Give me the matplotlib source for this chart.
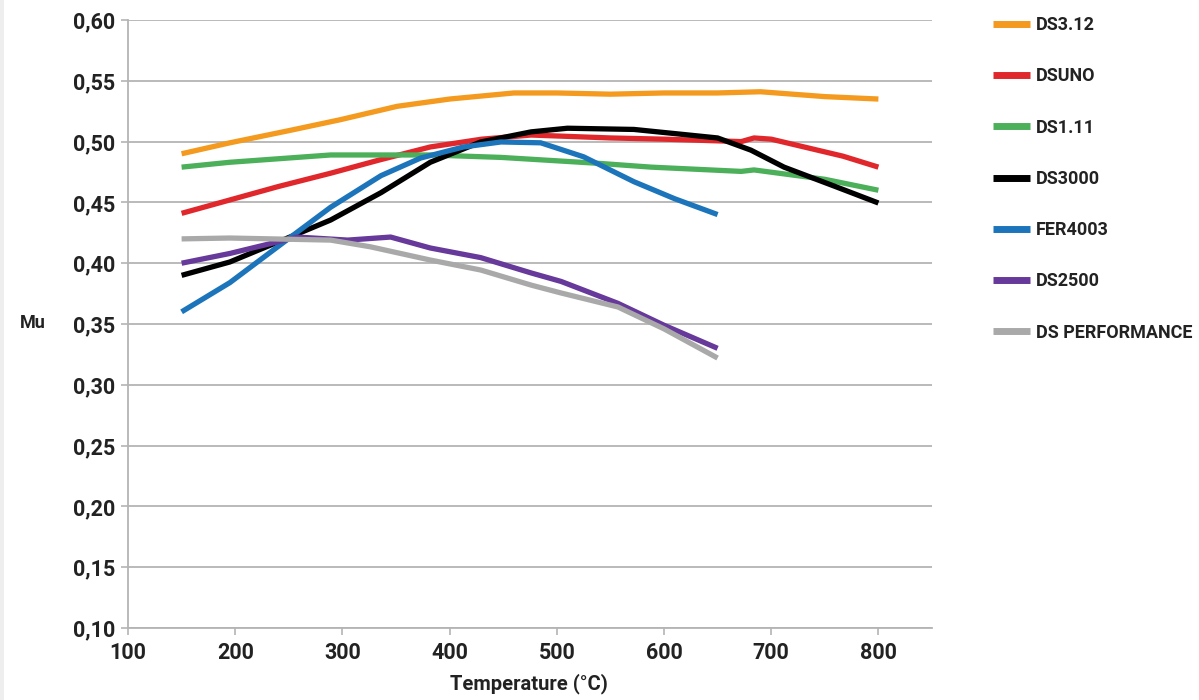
import matplotlib
matplotlib.use("Agg")
import matplotlib.pyplot as plt
from matplotlib.patches import Rectangle
from matplotlib.ticker import FuncFormatter

plt.rcParams['font.family'] = ['Roboto', 'DejaVu Sans']

series_names = ["DS3.12", "DSUNO", "DS1.11", "DS3000", "FER4003", "DS2500", "DS PERFORMANCE"]
colors = ["#F39A1F", "#E0282C", "#4CAF5A", "#000000", "#1C75BA", "#66399A", "#A9A9A9"]

ds312_x = [150, 195, 250, 298, 351, 400, 460, 500, 550, 600, 650, 690, 750, 800]
ds312_y = [0.490, 0.499, 0.509, 0.518, 0.529, 0.535, 0.540, 0.540, 0.539, 0.540, 0.540, 0.541, 0.537, 0.535]

dsuno_x = [150, 195, 240, 289, 335, 382, 430, 476, 550, 600, 672, 684, 700, 767, 800]
dsuno_y = [0.441, 0.452, 0.463, 0.474, 0.485, 0.4956, 0.502, 0.5054, 0.503, 0.502, 0.500, 0.503, 0.502, 0.488, 0.479]

ds111_x = [150, 195, 289, 382, 448, 541, 588, 672, 684, 750, 800]
ds111_y = [0.479, 0.483, 0.489, 0.489, 0.487, 0.482, 0.479, 0.4755, 0.4767, 0.469, 0.460]

ds3000_x = [150, 195, 251, 289, 336, 382, 429, 476, 510, 572, 650, 681, 712, 760, 800]
ds3000_y = [0.390, 0.401, 0.4215, 0.4355, 0.458, 0.483, 0.4997, 0.508, 0.511, 0.510, 0.503, 0.493, 0.479, 0.463, 0.4495]

fer4003_x = [150, 195, 251, 289, 336, 373, 413, 448, 485, 525, 572, 610, 650]
fer4003_y = [0.360, 0.384, 0.421, 0.446, 0.472, 0.4865, 0.4956, 0.4997, 0.499, 0.4875, 0.467, 0.453, 0.440]

ds2500_x = [150, 195, 258, 305, 345, 382, 429, 476, 504, 557, 600, 650]
ds2500_y = [0.400, 0.408, 0.4215, 0.419, 0.4215, 0.4125, 0.4046, 0.392, 0.385, 0.367, 0.349, 0.330]

dsperf_x = [150, 195, 289, 326, 382, 429, 476, 504, 557, 600, 650]
dsperf_y = [0.420, 0.4207, 0.419, 0.4135, 0.4026, 0.3944, 0.382, 0.3755, 0.364, 0.346, 0.322]

series_x = [ds312_x, dsuno_x, ds111_x, ds3000_x, fer4003_x, ds2500_x, dsperf_x]
series_y = [ds312_y, dsuno_y, ds111_y, ds3000_y, fer4003_y, ds2500_y, dsperf_y]

x_ticks = [100, 200, 300, 400, 500, 600, 700, 800]
y_ticks = [0.10, 0.15, 0.20, 0.25, 0.30, 0.35, 0.40, 0.45, 0.50, 0.55, 0.60]

fig = plt.figure(figsize=(11.99, 7.0), dpi=100)
fig.patch.set_facecolor("white")
fig.patches.append(Rectangle((0, 0), 4 / 1199, 1, transform=fig.transFigure,
                             facecolor="#EEEEEE", edgecolor="none", zorder=0))

ax = fig.add_axes([128 / 1199, 72 / 700, (932 - 128) / 1199, 608 / 700])
ax.set_xlim(100, 850)
ax.set_ylim(0.10, 0.60)

grid_color = "#B4B4B4"
for yt in y_ticks:
    ax.axhline(yt, color=grid_color, lw=1.3, zorder=1)

lines = []
for xs, ys, c, name in zip(series_x, series_y, colors, series_names):
    ln, = ax.plot(xs, ys, color=c, lw=3.8, solid_capstyle="butt",
                  solid_joinstyle="round", label=name, zorder=3)
    lines.append(ln)

for s in ["top", "right"]:
    ax.spines[s].set_visible(False)
for s in ["left", "bottom"]:
    ax.spines[s].set_color(grid_color)
    ax.spines[s].set_linewidth(1.3)

ax.set_xticks(x_ticks)
ax.set_yticks(y_ticks)
ax.yaxis.set_major_formatter(FuncFormatter(lambda v, p: f"{v:.2f}".replace(".", ",")))
ax.tick_params(axis="both", colors=grid_color, length=5, width=1.2, labelcolor="#222222",
               labelsize=15.5)
ax.tick_params(axis="x", pad=5)
ax.tick_params(axis="y", pad=4)
for lbl in ax.get_xticklabels() + ax.get_yticklabels():
    lbl.set_fontweight("semibold")

fig.text(33 / 1199, 1 - 323 / 700, "Mu", fontsize=13, fontweight="bold",
         ha="center", va="center", color="#222222")
fig.text(529 / 1199, 1 - 684 / 700, "Temperature (°C)", fontsize=14.5, fontweight="bold",
         ha="center", va="center", color="#222222")

leg = fig.legend(handles=lines, loc="upper left", bbox_to_anchor=(986 / 1199, 1 - 9 / 700),
                 frameon=False, fontsize=13, handlelength=2.05, handletextpad=0.33,
                 labelspacing=1.84, borderaxespad=0)
for t in leg.get_texts():
    t.set_fontweight("semibold")
    t.set_color("#222222")
for h in leg.legend_handles:
    h.set_linewidth(5)

fig.savefig("out.png", dpi=100)
